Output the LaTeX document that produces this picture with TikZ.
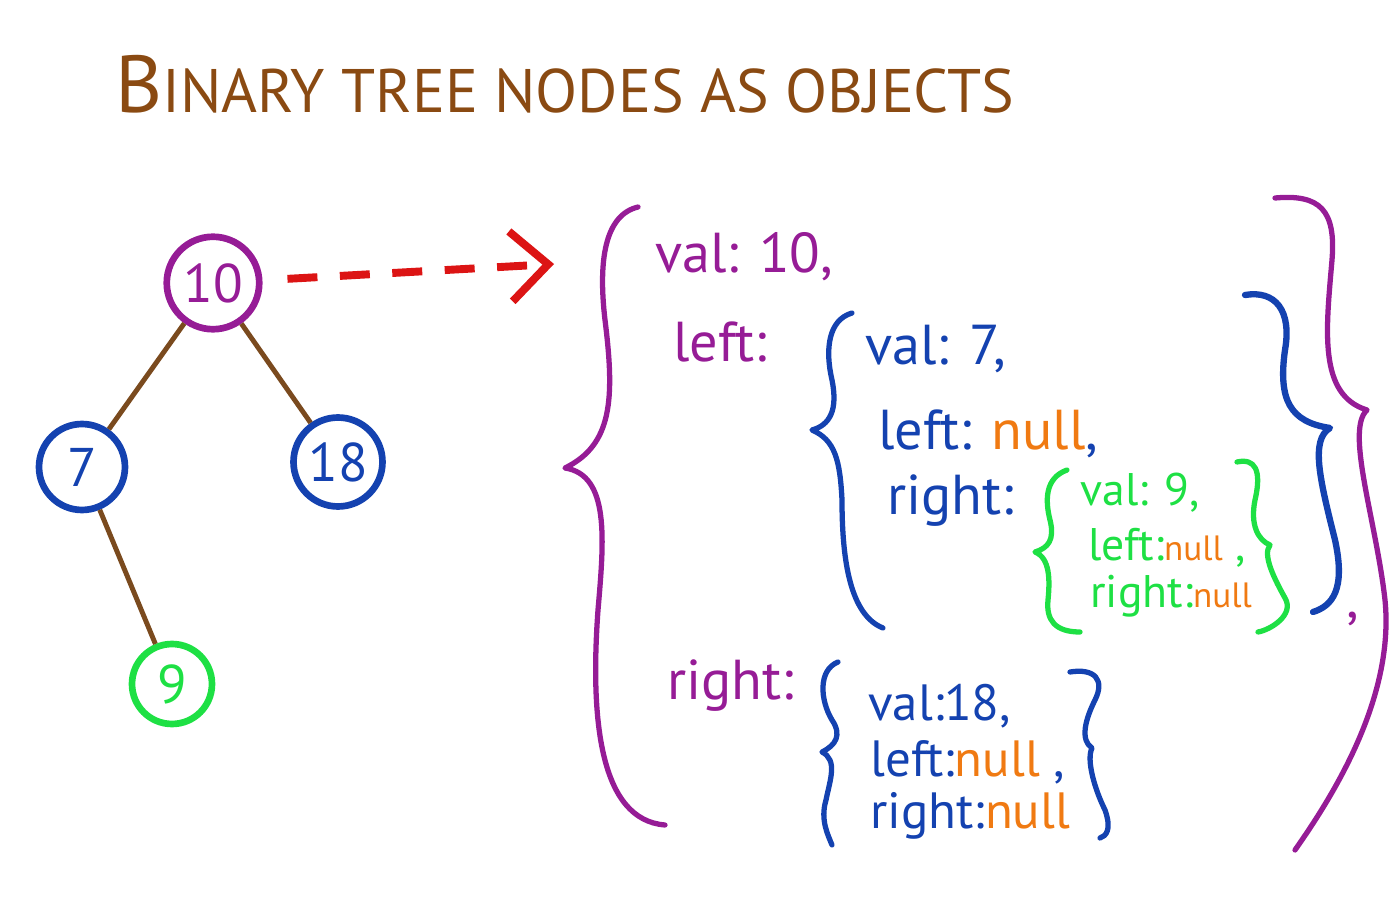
\documentclass[tikz,border=0pt]{standalone}
\usepackage{fontspec}
\setmainfont{PT Sans}
\usetikzlibrary{arrows.meta}
\definecolor{ttlbrown}{HTML}{8A4A12}
\definecolor{edgebrown}{HTML}{7A4A1E}
\definecolor{mpurple}{HTML}{961C96}
\definecolor{mblue}{HTML}{1442B0}
\definecolor{mgreen}{HTML}{1EE044}
\definecolor{morange}{HTML}{F07A12}
\definecolor{mred}{HTML}{DC1414}
\tikzset{
  treenode/.style={circle, line width=3.8pt, minimum size=#1, inner sep=0pt, font=\fontsize{31}{31}\selectfont},
  treeedge/.style={edgebrown, line width=2.8pt},
  brace/.style={line width=3pt, line cap=round, line join=round},
  code/.style={anchor=base west, inner sep=0pt, font=\fontsize{32}{32}\selectfont},
  codesm/.style={anchor=base west, inner sep=0pt, font=\fontsize{29}{29}\selectfont},
  codegr/.style={anchor=base west, inner sep=0pt, font=\fontsize{26}{26}\selectfont},
  refarrow/.style={mred, line width=4.5pt, dash pattern=on 0.6cm off 0.45cm, -{Straight Barb[length=0.75cm, width=1.4cm, line width=4.5pt]}}
}
\newcommand{\nl}[1]{{\fontsize{20}{20}\selectfont\textcolor{morange}{#1}}}
\begin{document}
\begin{tikzpicture}[x=0.02cm, y=-0.02cm]
\useasboundingbox (0,0) rectangle (1400,911);
% title
\node[anchor=base west, inner sep=0pt, text=ttlbrown, font=\fontsize{35}{35}\selectfont] (title) at (115,113)
  {{\fontsize{46}{46}\selectfont B}INARY TREE NODES AS OBJECTS};
% tree
\node[treenode=1.85cm, draw=mpurple, text=mpurple] (n10) at (213,283) {10};
\node[treenode=1.72cm, draw=mblue, text=mblue] (n7) at (82,467) {7};
\node[treenode=1.78cm, draw=mblue, text=mblue] (n18) at (338,462) {18};
\node[treenode=1.6cm, draw=mgreen, text=mgreen] (n9) at (172,684) {9};
\draw[treeedge] (n10) -- (n7);
\draw[treeedge] (n10) -- (n18);
\draw[treeedge] (n7) -- (n9);
% arrow
\coordinate (arr) at (554,264);
\draw[refarrow, shorten <=0.5cm] (n10) -- (arr);
% outer object braces (purple)
\draw[brace, mpurple] (638,207) .. controls (605,215) and (598,260) .. (605,320)
  .. controls (615,400) and (612,445) .. (565,468)
  .. controls (610,475) and (604,540) .. (598,610)
  .. controls (590,720) and (600,820) .. (665,825);
\draw[brace, mpurple] (1275,198) .. controls (1320,194) and (1336,210) .. (1332,260)
  .. controls (1326,330) and (1318,395) .. (1367,410)
  .. controls (1345,430) and (1376,520) .. (1385,600)
  .. controls (1395,700) and (1330,800) .. (1295,850);
% left object braces (blue)
\draw[brace, mblue] (852,313) .. controls (828,320) and (825,350) .. (832,380)
  .. controls (838,410) and (830,425) .. (812,430)
  .. controls (835,440) and (840,460) .. (842,500)
  .. controls (842,560) and (850,615) .. (883,628);
\draw[brace, mblue, line width=3.6pt] (1245,295) .. controls (1275,290) and (1292,310) .. (1285,350)
  .. controls (1278,400) and (1290,422) .. (1330,428)
  .. controls (1310,440) and (1320,480) .. (1335,540)
  .. controls (1346,590) and (1332,606) .. (1313,612);
% inner-most braces (green)
\draw[brace, mgreen] (1067,470) .. controls (1045,478) and (1045,500) .. (1050,520)
  .. controls (1055,540) and (1048,548) .. (1035,552)
  .. controls (1050,558) and (1050,580) .. (1048,600)
  .. controls (1046,620) and (1055,632) .. (1080,632);
\draw[brace, mgreen] (1237,462) .. controls (1255,458) and (1262,470) .. (1255,500)
  .. controls (1250,525) and (1258,540) .. (1270,545)
  .. controls (1262,555) and (1275,580) .. (1285,598)
  .. controls (1295,615) and (1270,630) .. (1258,632);
% right object braces (blue)
\draw[brace, mblue] (838,662) .. controls (818,670) and (820,700) .. (832,720)
  .. controls (842,735) and (836,745) .. (822,752)
  .. controls (838,760) and (830,780) .. (826,800)
  .. controls (820,820) and (828,835) .. (832,845);
\draw[brace, mblue] (1070,672) .. controls (1095,668) and (1105,680) .. (1095,700)
  .. controls (1085,720) and (1080,740) .. (1092,748)
  .. controls (1086,760) and (1095,790) .. (1105,810)
  .. controls (1112,830) and (1106,836) .. (1100,838);
% text
\node[code, text=mpurple] (v10) at (655,273) {val: 10,};
\node[code, text=mpurple] (l10) at (673,362) {left:};
\node[code, text=mpurple] (r10) at (667,700) {right:};
\node[code, text=mblue] (v7) at (865,365) {val: 7,};
\node[code, text=mblue] (l7) at (878,450) {left: \textcolor{morange}{null},};
\node[code, text=mblue] (r7) at (887,515) {right:};
\node[codegr, text=mgreen] (v9) at (1080,506) {val: 9,};
\node[codegr, text=mgreen] (l9) at (1088,561) {left:\nl{null} ,};
\node[codegr, text=mgreen] (r9) at (1090,608) {right:\nl{null}};
\node[code, text=mpurple] (cm) at (1346,618) {,};
\node[codesm, text=mblue] (v18) at (868,721) {val:18,};
\node[codesm, text=mblue] (l18) at (870,777) {left:\textcolor{morange}{null} ,};
\node[codesm, text=mblue] (r18) at (870,828) {right:\textcolor{morange}{null}};
\end{tikzpicture}
\end{document}
